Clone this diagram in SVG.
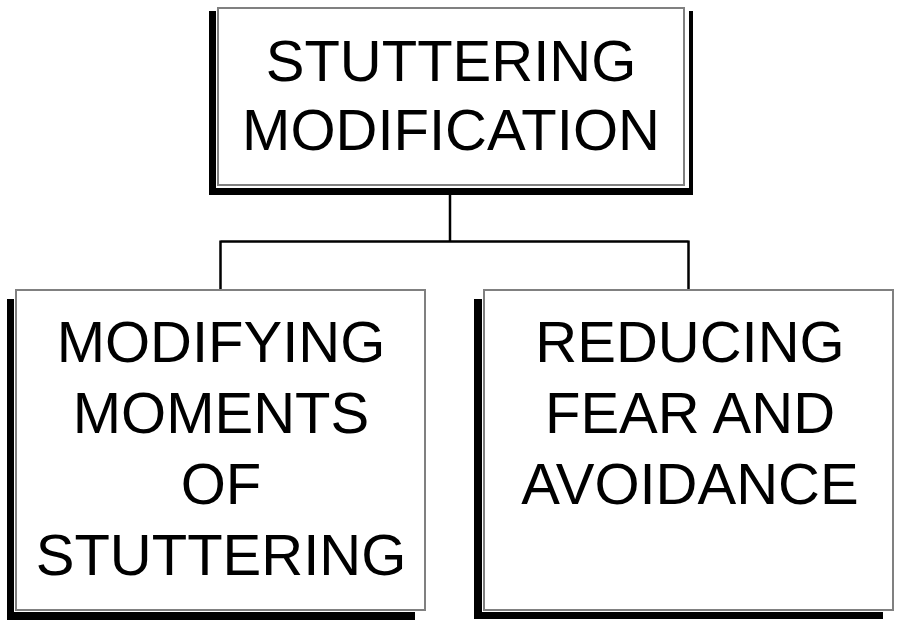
<svg xmlns="http://www.w3.org/2000/svg" width="903" height="629" viewBox="0 0 903 629">
<style>
.shadow{fill:#000}
.gap{fill:#fff}
.box{fill:#fff;stroke:#808080;stroke-width:2}
.lbl{font-family:"Liberation Sans",Arial,sans-serif;font-size:58px;fill:#000;text-anchor:middle}
.conn{fill:none;stroke:#000;stroke-width:2.5}
</style>
<rect width="903" height="629" fill="#fff"/>
<g id="connectors">
<path class="conn" d="M450,186 V241.5 M220.5,241.5 H688.5 M220.5,240.5 V290 M688.5,240.5 V290"/>
</g>
<g id="node-top">
<rect class="shadow" x="209" y="11" width="484" height="184"/>
<rect class="gap" x="216" y="4" width="473" height="184"/>
<rect class="box" x="218" y="8" width="466" height="177"/>
<text class="lbl" x="451" y="81">STUTTERING</text>
<text class="lbl" x="451" y="150">MODIFICATION</text>
</g>
<g id="node-left">
<rect class="shadow" x="7" y="299" width="408" height="321"/>
<rect class="gap" x="14" y="289" width="413" height="323"/>
<rect class="box" x="16" y="290" width="409" height="320"/>
<text class="lbl" x="221" y="362">MODIFYING</text>
<text class="lbl" x="221" y="433">MOMENTS</text>
<text class="lbl" x="221" y="504">OF</text>
<text class="lbl" x="221" y="575">STUTTERING</text>
</g>
<g id="node-right">
<rect class="shadow" x="474" y="299" width="409" height="320"/>
<rect class="gap" x="482" y="289" width="413" height="323"/>
<rect class="box" x="484" y="290" width="409" height="320"/>
<text class="lbl" x="690" y="362">REDUCING</text>
<text class="lbl" x="690" y="433">FEAR AND</text>
<text class="lbl" x="690" y="504">AVOIDANCE</text>
</g>
</svg>
